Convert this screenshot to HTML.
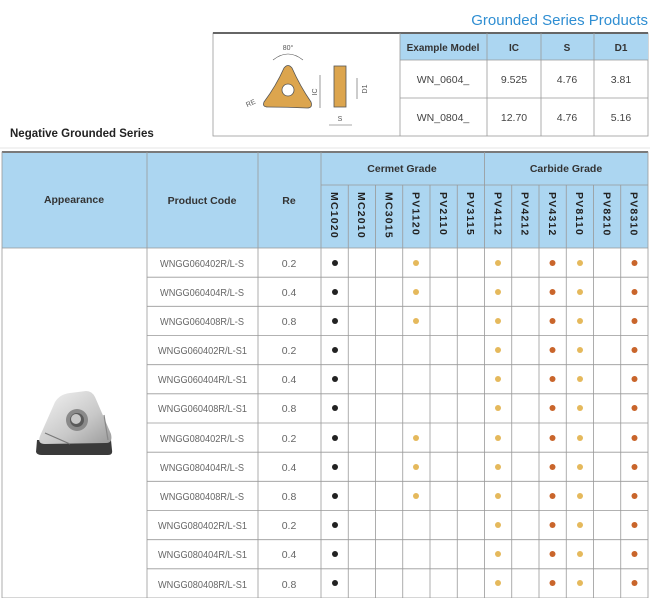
<!DOCTYPE html>
<html><head><meta charset="utf-8"><style>
html,body{margin:0;padding:0;background:#fff;}
svg{display:block;font-family:"Liberation Sans",sans-serif;}
</style></head><body>
<svg width="650" height="598" viewBox="0 0 650 598" xmlns="http://www.w3.org/2000/svg">
<text x="648" y="25" text-anchor="end" font-size="15" fill="#2f8ed2">Grounded Series Products</text>
<rect x="213" y="33" width="435" height="103" fill="#fff" stroke="#999" stroke-width="0.8"/>
<rect x="400" y="34" width="248" height="26" fill="#acd6f1"/>
<line x1="213" y1="33" x2="648" y2="33" stroke="#666" stroke-width="2"/>
<g stroke="#999" stroke-width="0.8">
<line x1="400" y1="33" x2="400" y2="136"/><line x1="487" y1="33" x2="487" y2="136"/>
<line x1="541" y1="33" x2="541" y2="136"/><line x1="594" y1="33" x2="594" y2="136"/>
<line x1="400" y1="60" x2="648" y2="60"/><line x1="400" y1="98" x2="648" y2="98"/>
</g>
<g font-size="10" font-weight="bold" fill="#333" text-anchor="middle">
<text x="443" y="51">Example Model</text><text x="514" y="51">IC</text><text x="567" y="51">S</text><text x="621" y="51">D1</text>
</g>
<g font-size="10.5" fill="#444" text-anchor="middle">
<text x="443" y="83">WN_0604_</text><text x="514" y="83">9.525</text><text x="567" y="83">4.76</text><text x="621" y="83">3.81</text>
<text x="443" y="121">WN_0804_</text><text x="514" y="121">12.70</text><text x="567" y="121">4.76</text><text x="621" y="121">5.16</text>
</g>
<path d="M284,68 Q288,63 292,68 Q300,86 311,102 Q313,108 307,108 Q287,107 268,107 Q262,107 264,102 Q276,86 284,68 Z" fill="#dca54e" stroke="#555" stroke-width="0.8"/>
<circle cx="288" cy="90" r="6" fill="#fff" stroke="#555" stroke-width="0.8"/>
<path d="M273,60 Q288,48 303,60" fill="none" stroke="#555" stroke-width="0.6"/>
<text x="288" y="50" font-size="7" fill="#555" text-anchor="middle">80°</text>
<text x="247" y="106" font-size="7" fill="#555" transform="rotate(-25 250 106)">RE</text>
<line x1="320" y1="75" x2="320" y2="108" stroke="#555" stroke-width="0.6"/>
<text x="317" y="92" font-size="7" fill="#555" transform="rotate(-90 317 92)" text-anchor="middle">IC</text>
<rect x="334" y="66" width="12" height="41" fill="#dca54e" stroke="#555" stroke-width="0.8"/>
<line x1="357" y1="78" x2="357" y2="99" stroke="#555" stroke-width="0.6"/>
<text x="367" y="89" font-size="7" fill="#555" transform="rotate(-90 367 89)" text-anchor="middle">D1</text>
<line x1="329" y1="125" x2="352" y2="125" stroke="#555" stroke-width="0.6"/>
<text x="340" y="121" font-size="7" fill="#555" text-anchor="middle">S</text>
<text x="10" y="137" font-size="11.5" font-weight="bold" fill="#222">Negative Grounded Series</text>
<line x1="0" y1="148" x2="650" y2="148" stroke="#e4e4e4" stroke-width="1"/>
<rect x="2" y="152" width="646" height="96" fill="#acd6f1"/>
<line x1="2" y1="152" x2="648" y2="152" stroke="#666" stroke-width="2"/>
<g stroke="#999" stroke-width="0.8" fill="none">
<rect x="2" y="152" width="646" height="446"/>
<line x1="147" y1="152" x2="147" y2="598"/><line x1="258" y1="152" x2="258" y2="598"/>
<line x1="321" y1="152" x2="321" y2="598"/><line x1="484.5" y1="152" x2="484.5" y2="598"/>
<line x1="321" y1="185" x2="648" y2="185"/>
<line x1="2" y1="248" x2="648" y2="248"/>
<line x1="348.25" y1="185" x2="348.25" y2="598"/><line x1="375.5" y1="185" x2="375.5" y2="598"/>
<line x1="402.75" y1="185" x2="402.75" y2="598"/><line x1="430" y1="185" x2="430" y2="598"/>
<line x1="457.25" y1="185" x2="457.25" y2="598"/><line x1="511.75" y1="185" x2="511.75" y2="598"/>
<line x1="539" y1="185" x2="539" y2="598"/><line x1="566.25" y1="185" x2="566.25" y2="598"/>
<line x1="593.5" y1="185" x2="593.5" y2="598"/><line x1="620.75" y1="185" x2="620.75" y2="598"/>
<line x1="147" y1="277.2" x2="648" y2="277.2"/><line x1="147" y1="306.3" x2="648" y2="306.3"/>
<line x1="147" y1="335.5" x2="648" y2="335.5"/><line x1="147" y1="364.7" x2="648" y2="364.7"/>
<line x1="147" y1="393.8" x2="648" y2="393.8"/><line x1="147" y1="423" x2="648" y2="423"/>
<line x1="147" y1="452.2" x2="648" y2="452.2"/><line x1="147" y1="481.3" x2="648" y2="481.3"/>
<line x1="147" y1="510.5" x2="648" y2="510.5"/><line x1="147" y1="539.7" x2="648" y2="539.7"/>
<line x1="147" y1="568.8" x2="648" y2="568.8"/>
</g>
<g font-size="10.5" font-weight="bold" fill="#333" text-anchor="middle">
<text x="74" y="203">Appearance</text><text x="202" y="204">Product Code</text><text x="289" y="204">Re</text>
<text x="402" y="172">Cermet Grade</text><text x="566" y="172">Carbide Grade</text>
</g>
<g font-size="10.5" font-weight="bold" fill="#222" letter-spacing="1.2">
<text transform="translate(331,192) rotate(90)">MC1020</text>
<text transform="translate(358,192) rotate(90)">MC2010</text>
<text transform="translate(385.5,192) rotate(90)">MC3015</text>
<text transform="translate(412.5,192) rotate(90)">PV1120</text>
<text transform="translate(440,192) rotate(90)">PV2110</text>
<text transform="translate(467,192) rotate(90)">PV3115</text>
<text transform="translate(494.5,192) rotate(90)">PV4112</text>
<text transform="translate(521.5,192) rotate(90)">PV4212</text>
<text transform="translate(549,192) rotate(90)">PV4312</text>
<text transform="translate(576,192) rotate(90)">PV8110</text>
<text transform="translate(603.5,192) rotate(90)">PV8210</text>
<text transform="translate(630.5,192) rotate(90)">PV8310</text>
</g>
<g font-size="10.5" fill="#666">
<text x="160" y="267" textLength="84" lengthAdjust="spacingAndGlyphs">WNGG060402R/L-S</text>
<text x="160" y="296" textLength="84" lengthAdjust="spacingAndGlyphs">WNGG060404R/L-S</text>
<text x="160" y="325" textLength="84" lengthAdjust="spacingAndGlyphs">WNGG060408R/L-S</text>
<text x="158" y="354" textLength="89" lengthAdjust="spacingAndGlyphs">WNGG060402R/L-S1</text>
<text x="158" y="383" textLength="89" lengthAdjust="spacingAndGlyphs">WNGG060404R/L-S1</text>
<text x="158" y="412" textLength="89" lengthAdjust="spacingAndGlyphs">WNGG060408R/L-S1</text>
<text x="160" y="442" textLength="84" lengthAdjust="spacingAndGlyphs">WNGG080402R/L-S</text>
<text x="160" y="471" textLength="84" lengthAdjust="spacingAndGlyphs">WNGG080404R/L-S</text>
<text x="160" y="500" textLength="84" lengthAdjust="spacingAndGlyphs">WNGG080408R/L-S</text>
<text x="158" y="529" textLength="89" lengthAdjust="spacingAndGlyphs">WNGG080402R/L-S1</text>
<text x="158" y="558" textLength="89" lengthAdjust="spacingAndGlyphs">WNGG080404R/L-S1</text>
<text x="158" y="588" textLength="89" lengthAdjust="spacingAndGlyphs">WNGG080408R/L-S1</text>
</g>
<g font-size="10.5" fill="#666" text-anchor="middle">
<text x="289" y="267">0.2</text><text x="289" y="296">0.4</text><text x="289" y="325">0.8</text>
<text x="289" y="354">0.2</text><text x="289" y="383">0.4</text><text x="289" y="412">0.8</text>
<text x="289" y="442">0.2</text><text x="289" y="471">0.4</text><text x="289" y="500">0.8</text>
<text x="289" y="529">0.2</text><text x="289" y="558">0.4</text><text x="289" y="588">0.8</text>
</g>
<g fill="#222">
<circle cx="335" cy="263" r="3"/><circle cx="335" cy="292" r="3"/><circle cx="335" cy="321" r="3"/><circle cx="335" cy="350" r="3"/><circle cx="335" cy="379" r="3"/><circle cx="335" cy="408" r="3"/><circle cx="335" cy="438" r="3"/><circle cx="335" cy="467" r="3"/><circle cx="335" cy="496" r="3"/><circle cx="335" cy="525" r="3"/><circle cx="335" cy="554" r="3"/><circle cx="335" cy="583" r="3"/>
</g>
<g fill="#e5b95c">
<circle cx="416" cy="263" r="3"/><circle cx="416" cy="292" r="3"/><circle cx="416" cy="321" r="3"/><circle cx="416" cy="438" r="3"/><circle cx="416" cy="467" r="3"/><circle cx="416" cy="496" r="3"/>
<circle cx="498" cy="263" r="3"/><circle cx="498" cy="292" r="3"/><circle cx="498" cy="321" r="3"/><circle cx="498" cy="350" r="3"/><circle cx="498" cy="379" r="3"/><circle cx="498" cy="408" r="3"/><circle cx="498" cy="438" r="3"/><circle cx="498" cy="467" r="3"/><circle cx="498" cy="496" r="3"/><circle cx="498" cy="525" r="3"/><circle cx="498" cy="554" r="3"/><circle cx="498" cy="583" r="3"/>
<circle cx="580" cy="263" r="3"/><circle cx="580" cy="292" r="3"/><circle cx="580" cy="321" r="3"/><circle cx="580" cy="350" r="3"/><circle cx="580" cy="379" r="3"/><circle cx="580" cy="408" r="3"/><circle cx="580" cy="438" r="3"/><circle cx="580" cy="467" r="3"/><circle cx="580" cy="496" r="3"/><circle cx="580" cy="525" r="3"/><circle cx="580" cy="554" r="3"/><circle cx="580" cy="583" r="3"/>
</g>
<g fill="#c9652b">
<circle cx="552.5" cy="263" r="3"/><circle cx="552.5" cy="292" r="3"/><circle cx="552.5" cy="321" r="3"/><circle cx="552.5" cy="350" r="3"/><circle cx="552.5" cy="379" r="3"/><circle cx="552.5" cy="408" r="3"/><circle cx="552.5" cy="438" r="3"/><circle cx="552.5" cy="467" r="3"/><circle cx="552.5" cy="496" r="3"/><circle cx="552.5" cy="525" r="3"/><circle cx="552.5" cy="554" r="3"/><circle cx="552.5" cy="583" r="3"/>
<circle cx="634.5" cy="263" r="3"/><circle cx="634.5" cy="292" r="3"/><circle cx="634.5" cy="321" r="3"/><circle cx="634.5" cy="350" r="3"/><circle cx="634.5" cy="379" r="3"/><circle cx="634.5" cy="408" r="3"/><circle cx="634.5" cy="438" r="3"/><circle cx="634.5" cy="467" r="3"/><circle cx="634.5" cy="496" r="3"/><circle cx="634.5" cy="525" r="3"/><circle cx="634.5" cy="554" r="3"/><circle cx="634.5" cy="583" r="3"/>
</g>
<defs><linearGradient id="g1" x1="0" y1="0" x2="1" y2="1"><stop offset="0" stop-color="#f4f4f4"/><stop offset="0.6" stop-color="#c8c8c8"/><stop offset="1" stop-color="#9a9a9a"/></linearGradient></defs>
<path d="M37,440 L36,452 Q37,455 42,455 L108,455 Q113,455 112,450 L111,440 Z" fill="#3a3a3a"/>
<path d="M40,436 L55,402 Q60,394 70,393 L86,391 Q92,391 95,397 L111,434 Q113,443 106,443 L45,444 Q37,444 40,436 Z" fill="url(#g1)"/>
<path d="M45,433 L70,444" stroke="#777" stroke-width="1.2"/>
<path d="M104,415 L108,440" stroke="#888" stroke-width="1.2"/>
<circle cx="77" cy="420" r="11" fill="#8a8a8a"/>
<circle cx="77" cy="420" r="7" fill="#5a5a5a"/>
<circle cx="76" cy="419" r="5" fill="#c8c8c8"/>
</svg>
</body></html>
